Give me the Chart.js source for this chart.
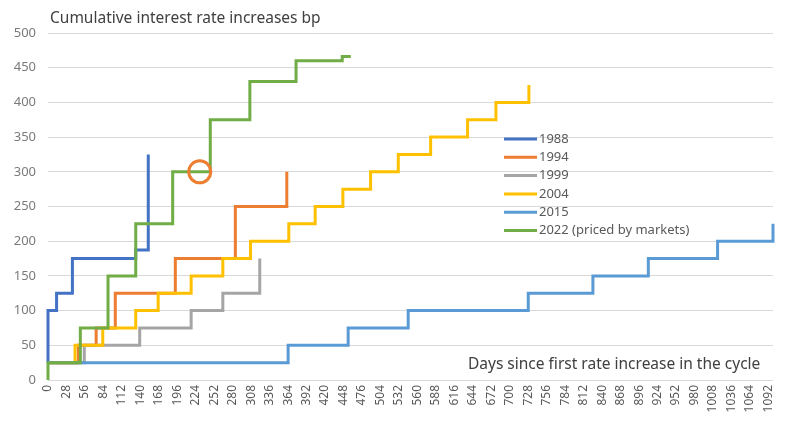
<!DOCTYPE html>
<html>
<head>
<meta charset="utf-8">
<script src="https://cdn.jsdelivr.net/npm/chart.js@4/dist/chart.umd.min.js"></script>
<style>
    html, body { margin: 0; padding: 0; background: #fff; }
    #wrap { width: 800px; height: 431px; }
</style>
</head>
<body>
<div id="wrap"><canvas id="rateChart" width="800" height="431"></canvas></div>
<script>
// days since first hike / cumulative increase in bp, one pair per cycle
const days1988 = [0, 0, 13, 37, 133, 152];
const bp1988 = [25, 100, 125, 175, 187.5, 325];

const days1994 = [0, 46, 73, 102, 193, 284, 362];
const bp1994 = [25, 50, 75, 125, 175, 250, 300];

const days1999 = [0, 55, 139, 217, 265, 321];
const bp1999 = [25, 50, 75, 100, 125, 175];

const days2004 = [0, 41, 83, 133, 167, 217, 265, 307, 365, 405, 447, 489, 531, 580, 636, 679, 729];
const bp2004 = [25, 50, 75, 100, 125, 150, 175, 200, 225, 250, 275, 300, 325, 350, 375, 400, 425];

const days2015 = [0, 364, 455, 546, 728, 826, 910, 1015, 1099];
const bp2015 = [25, 50, 75, 100, 125, 150, 175, 200, 225];

const days2022 = [0, 0, 49, 91, 133, 189, 246, 306, 376, 446, 459];
const bp2022 = [0, 25, 75, 150, 225, 300, 375, 430, 460, 466, 466];

const seriesNames = ['1988', '1994', '1999', '2004', '2015', '2022 (priced by markets)'];
const seriesColors = ['#4472C4', '#ED7D31', '#A5A5A5', '#FFC000', '#5B9BD5', '#70AD47'];

// highlighted point (orange ring)
const markDay = [230];
const markBp = [300];

const pts = (days, bp) => days.map((d, i) => ({ x: d, y: bp[i] }));
const allSeries = [
    pts(days1988, bp1988), pts(days1994, bp1994), pts(days1999, bp1999),
    pts(days2004, bp2004), pts(days2015, bp2015), pts(days2022, bp2022)
];

const FONT = '"Noto Sans", "Open Sans", sans-serif';

const datasets = allSeries.map((data, i) => ({
    label: seriesNames[i],
    data: data,
    borderColor: seriesColors[i],
    backgroundColor: seriesColors[i],
    borderWidth: 3,
    pointRadius: 0,
    stepped: 'before',
    fill: false,
    clip: 4,
    order: allSeries.length - i,
}));

datasets.push({
    label: 'mark',
    type: 'scatter',
    data: pts(markDay, markBp),
    pointRadius: 11,
    pointHoverRadius: 11,
    borderWidth: 3,
    borderColor: '#ED7D31',
    backgroundColor: 'rgba(0,0,0,0)',
    order: -1,
});

// legend + titles drawn inside the plot like the original
const textPlugin = {
    id: 'textPlugin',
    afterDraw(chart) {
        const ctx = chart.ctx;
        ctx.save();
        ctx.fillStyle = '#404040';
        ctx.textBaseline = 'middle';
        ctx.textAlign = 'left';
        ctx.font = '15.5px ' + FONT;
        ctx.fillText('Cumulative interest rate increases bp', 50, 19);
        ctx.fillText('Days since first rate increase in the cycle', 468, 365);

        ctx.font = '13px ' + FONT;
        ctx.fillStyle = '#595959';
        seriesNames.forEach((name, i) => {
            const y = 139 + i * 18.3;
            ctx.strokeStyle = seriesColors[i];
            ctx.lineWidth = 3;
            ctx.beginPath();
            ctx.moveTo(504, y);
            ctx.lineTo(537, y);
            ctx.stroke();
            ctx.fillText(name, 539, y);
        });
        ctx.restore();
    }
};

new Chart(document.getElementById('rateChart'), {
    type: 'line',
    data: { datasets: datasets },
    options: {
        responsive: false,
        animation: false,
        layout: { padding: { top: 33, right: 27, left: 0, bottom: 0 } },
        plugins: {
            legend: { display: false },
            title: { display: false },
            tooltip: { enabled: false },
        },
        scales: {
            x: {
                type: 'linear',
                min: 0,
                max: 1099,
                grid: { display: false, drawTicks: false },
                border: { display: false },
                ticks: {
                    stepSize: 28,
                    includeBounds: false,
                    autoSkip: false,
                    maxRotation: 90,
                    minRotation: 90,
                    padding: 5,
                    color: '#595959',
                    font: { family: FONT, size: 12 },
                    callback: (v) => String(v),
                },
                afterFit(scale) { scale.height = 51; },
            },
            y: {
                min: 0,
                max: 500,
                grid: { color: '#d9d9d9', lineWidth: 1, drawTicks: false },
                border: { display: false },
                ticks: {
                    stepSize: 50,
                    padding: 12,
                    color: '#7a7a7a',
                    font: { family: FONT, size: 13 },
                },
                afterFit(scale) { scale.width = 48; },
            },
        },
    },
    plugins: [textPlugin],
});
</script>
</body>
</html>
